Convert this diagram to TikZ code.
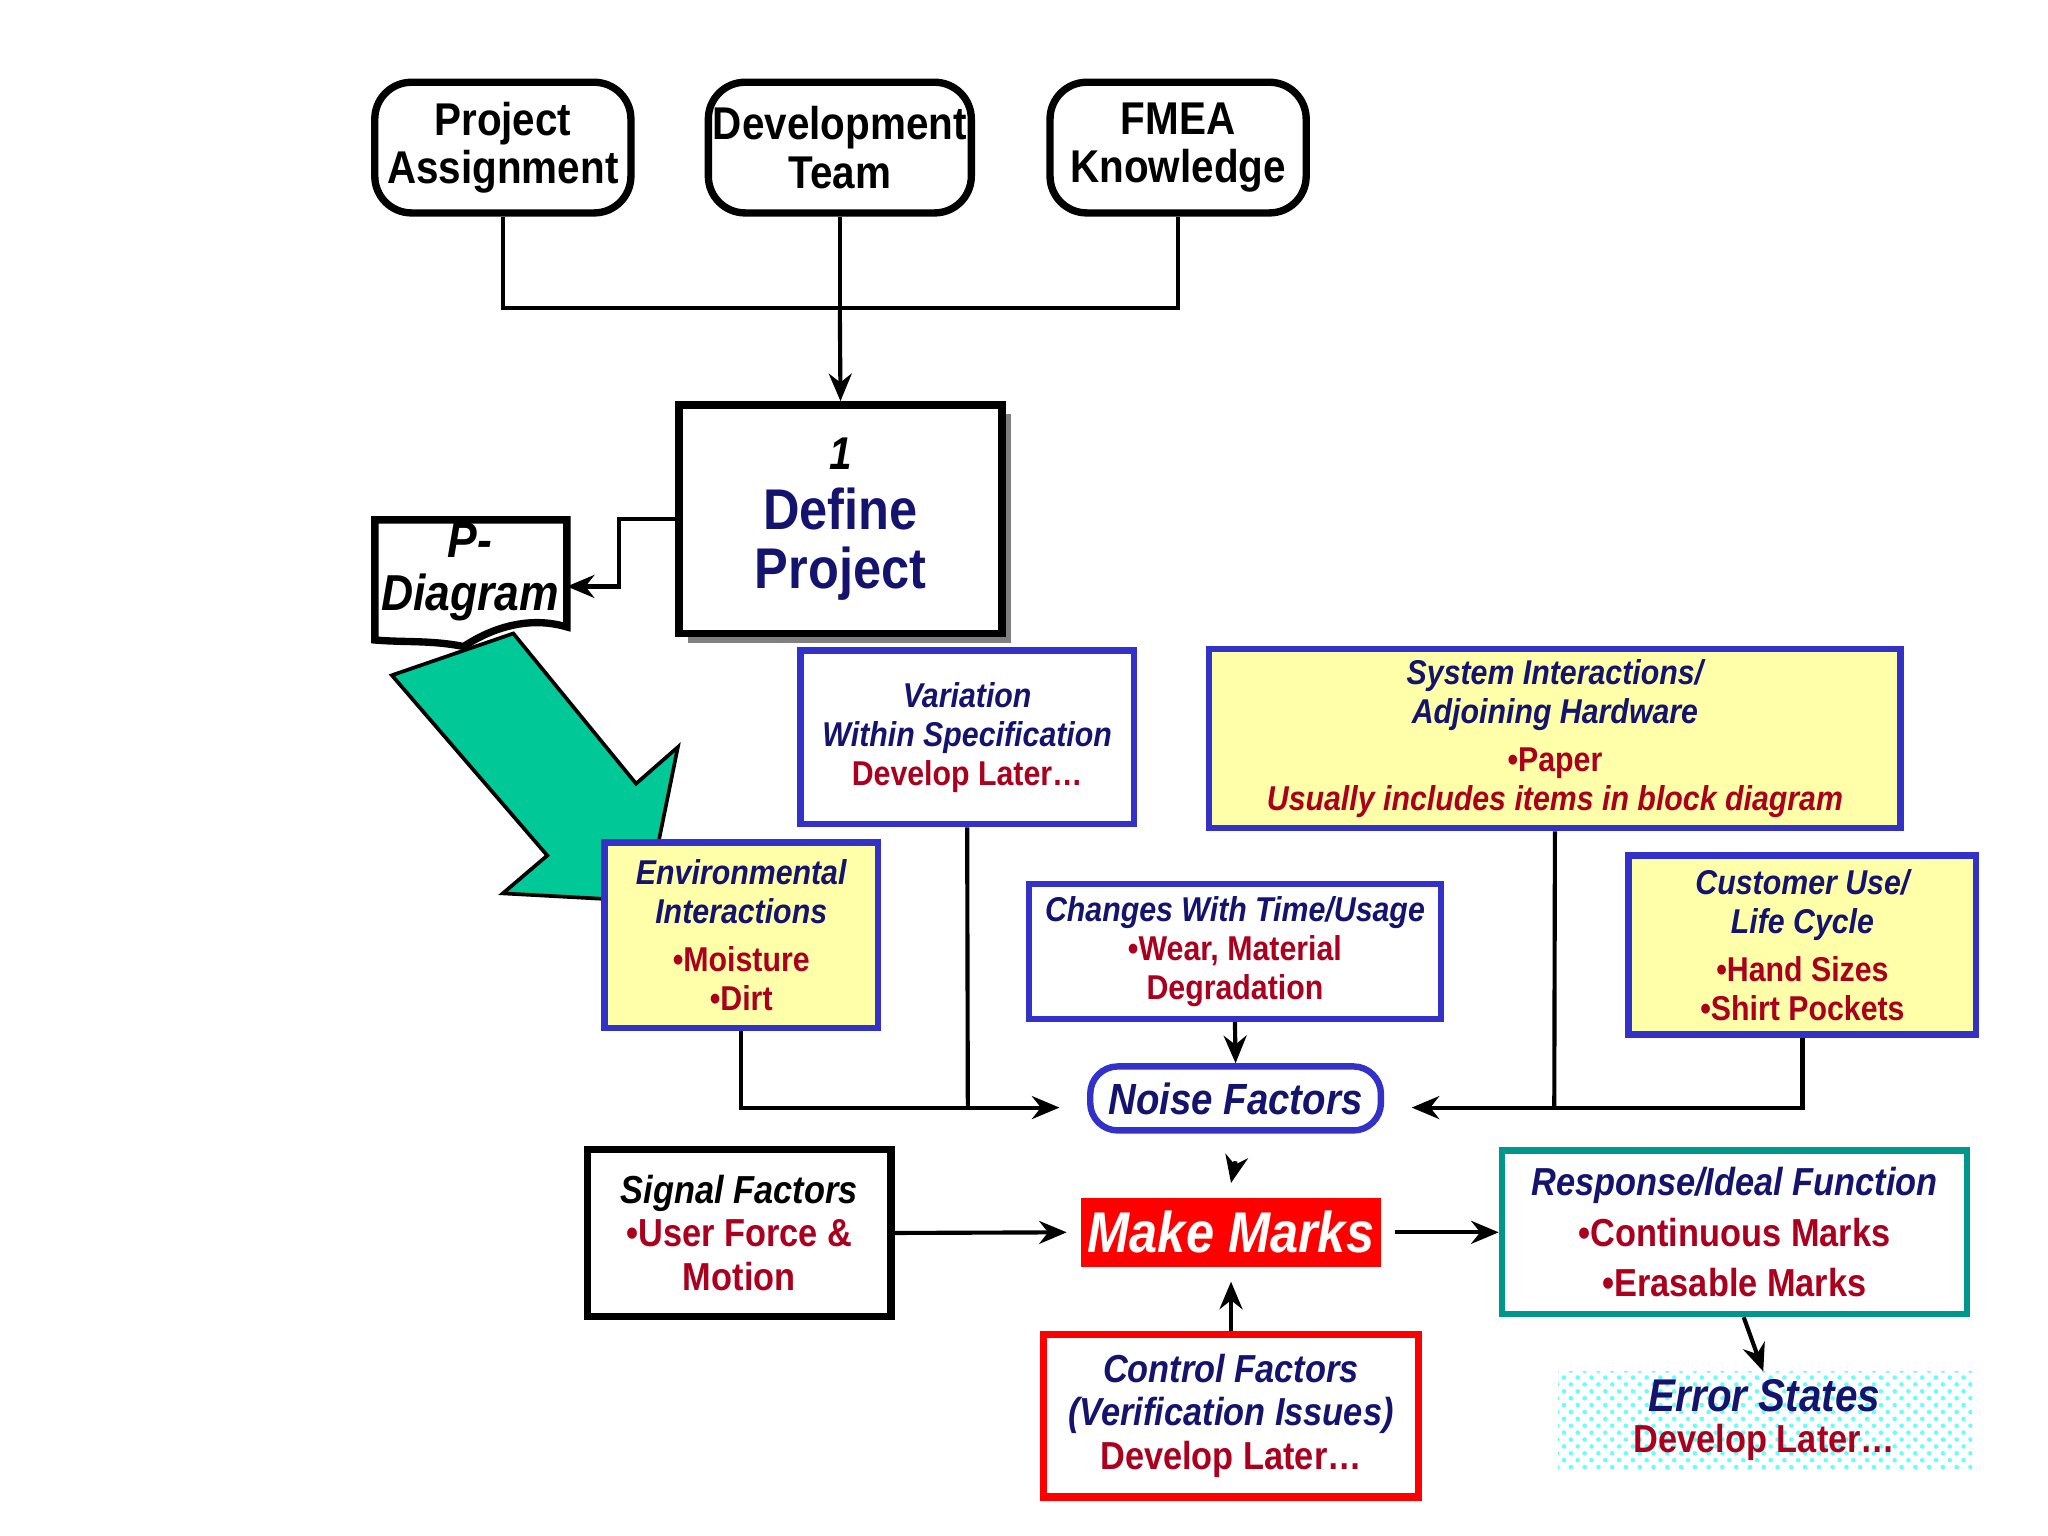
\documentclass[tikz,border=0pt]{standalone}
\usepackage{fontspec}
\setmainfont[FakeStretch=0.88]{Liberation Sans}
\usetikzlibrary{patterns,arrows.meta}
\definecolor{navy}{RGB}{20,20,110}
\definecolor{dred}{RGB}{170,0,30}
\definecolor{lyellow}{RGB}{255,255,170}
\definecolor{boxblue}{RGB}{50,50,200}
\definecolor{teal2}{RGB}{0,150,140}
\definecolor{greenarrow}{RGB}{0,200,150}
\tikzset{
  top/.style={draw,rounded corners=8pt,line width=1.6pt,minimum width=1.96cm,minimum height=1cm,align=center,font=\bfseries\fontsize{10}{10.5}\selectfont,inner sep=1pt},
  factor/.style={draw=boxblue,line width=1.4pt,align=center,font=\bfseries\itshape\fontsize{7.5}{8.5}\selectfont,text=navy,inner sep=2pt},
  link/.style={line width=0.9pt,-{Stealth[length=6pt,width=5pt]}},
  plain/.style={line width=0.9pt}
}
\newcommand{\rd}[1]{{\color{dred}\upshape #1}}
\begin{document}
\begin{tikzpicture}[x=0.01cm,y=-0.01cm]
\useasboundingbox (0,0) rectangle (1568,1176);
% top inputs
\node[top] (assign) at (385,113) {Project\\Assignment};
\node[top] (team) at (643,113) {Development\\Team};
\node[top] (fmea) at (902,113) {FMEA\\Knowledge};
\coordinate (join) at (643,236);
\draw[plain] (assign.south) |- (join) -| (fmea.south);
\draw[plain] (team.south) -- (join);
% define project
\fill[gray] (527,317) rectangle (774,492);
\node[draw,fill=white,line width=1.6pt,minimum width=2.47cm,minimum height=1.75cm,align=center,text=navy,font=\bfseries\fontsize{12.5}{13}\selectfont] (define) at (643.5,397.5) {{\color{black}\itshape\fontsize{10}{10}\selectfont 1}\\Define\\Project};
\draw[link] (join) -- (define.north);
% p-diagram
\draw[line width=1.6pt,fill=white] (287,398) -- (434,398) -- (434,480) .. controls (400,470) and (370,485) .. (355,495) .. controls (330,490) and (310,492) .. (287,490) -- cycle;
\node[align=center,font=\bfseries\itshape\fontsize{11}{11.5}\selectfont,inner sep=1pt] (pdiag) at (360,438) {P-\\Diagram};
\coordinate (pin) at (434,449);
\draw[link] (define.west) -- ++(-43,0) |- (pin);
% green arrow
\fill[greenarrow] (300,517) -- (393,485) -- (487,600) -- (519,572) -- (495,690) -- (385,684) -- (419,655) -- cycle;
\draw[line width=0.8pt] (300,517) -- (393,485) -- (487,600) -- (519,572) -- (495,690) -- (385,684) -- (419,655) -- cycle;
% noise sources
\node[factor,fill=white,minimum width=2.55cm,minimum height=1.33cm] (variation) at (740.5,564.5) {Variation\\Within Specification\\\rd{Develop Later…}};
\node[factor,fill=lyellow,minimum width=5.29cm,minimum height=1.37cm] (system) at (1190.5,565.5) {System Interactions/\\Adjoining Hardware\\[2pt]\rd{•Paper}\\\rd{\itshape Usually includes items in block diagram}};
\node[factor,fill=lyellow,minimum width=2.09cm,minimum height=1.42cm] (env) at (567.5,716) {Environmental\\Interactions\\[2pt]\rd{•Moisture}\\\rd{•Dirt}};
\node[factor,fill=white,minimum width=3.15cm,minimum height=1.03cm] (changes) at (945.5,728.5) {Changes With Time/Usage\\\rd{•Wear, Material}\\\rd{Degradation}};
\node[factor,fill=lyellow,minimum width=2.66cm,minimum height=1.37cm] (customer) at (1380,723.5) {Customer Use/\\Life Cycle\\[2pt]\rd{•Hand Sizes}\\\rd{•Shirt Pockets}};
\node[draw=boxblue,line width=1.4pt,rounded corners=6pt,minimum width=1.97cm,minimum height=0.49cm,text=navy,font=\bfseries\itshape\fontsize{9.5}{9.5}\selectfont,inner xsep=4pt,inner ysep=1pt] (noise) at (946,841) {Noise Factors};
\coordinate (lmerge) at (741,848);
\coordinate (rmerge) at (1190,848);
\draw[link] (env.south) |- ([xshift=-6pt]noise.west|-lmerge);
\draw[plain] (variation.south) -- (lmerge);
\draw[link] (customer.south) |- ([xshift=6pt]noise.east|-rmerge);
\draw[plain] (system.south) -- (rmerge);
\draw[link] (changes.south) -- (noise.north);
% core
\node[fill=red,minimum width=2.29cm,minimum height=0.53cm,text=white,font=\bfseries\itshape\fontsize{12.5}{12.5}\selectfont,inner sep=1pt] (marks) at (942.5,943.5) {Make Marks};
\draw[link] ([yshift=-6pt]noise.south) -- ([yshift=3pt]marks.north);
\node[draw,line width=1.6pt,minimum width=2.32cm,minimum height=1.28cm,align=center,font=\bfseries\itshape\fontsize{8.5}{9.5}\selectfont] (signal) at (566,944) {Signal Factors\\\rd{•User Force \&}\\\rd{Motion}};
\draw[link] (signal.east) -- ([xshift=-3pt]marks.west);
\node[draw=teal2,line width=1.4pt,minimum width=3.56cm,minimum height=1.25cm,align=center,text=navy,font=\bfseries\itshape\fontsize{8.5}{11}\selectfont] (response) at (1328,943.5) {Response/Ideal Function\\\rd{•Continuous Marks}\\\rd{•Erasable Marks}};
\draw[link] ([xshift=3pt]marks.east) -- (response.west);
\node[draw=red,line width=1.6pt,minimum width=2.87cm,minimum height=1.24cm,align=center,text=navy,font=\bfseries\itshape\fontsize{8.5}{9.5}\selectfont] (control) at (942.5,1084) {Control Factors\\(Verification Issues)\\\rd{Develop Later…}};
\draw[link] (control.north) -- ([yshift=-3pt]marks.south);
\fill[pattern=crosshatch dots,pattern color=cyan!60] (1193,1050) rectangle (1510,1125);
\node[align=center,text=navy,font=\bfseries\itshape\fontsize{10}{9}\selectfont] (error) at (1351,1087) {Error States\\\rd{\fontsize{8.5}{9}\selectfont Develop Later…}};
\draw[link] ([xshift=2pt]response.south) -- (1350,1050);
\end{tikzpicture}
\end{document}
